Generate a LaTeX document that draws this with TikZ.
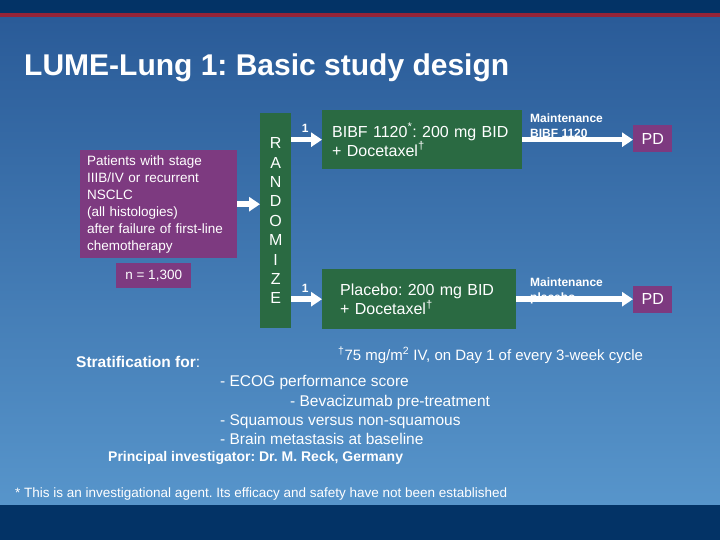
\documentclass[tikz,border=0pt]{standalone}
\usepackage{fontspec}
\setmainfont{Liberation Sans}
\usetikzlibrary{positioning,arrows.meta}
\frenchspacing

\definecolor{navy}{HTML}{033366}
\definecolor{slidered}{HTML}{952438}
\definecolor{bgtop}{HTML}{2A5B98}
\definecolor{bgbot}{HTML}{5795CB}
\definecolor{armgreen}{HTML}{2A6A42}
\definecolor{patpurple}{HTML}{7D3A80}

\tikzset{
  whitearrow/.style={draw=white, line width=5.5pt, -{Triangle[length=11pt,width=14pt]}},
  greenbox/.style={fill=armgreen, text=white, anchor=north west, inner sep=0pt},
  purplebox/.style={fill=patpurple, text=white, anchor=north west, inner sep=0pt},
  slidetext/.style={text=white, anchor=base west, inner sep=0pt},
}

\begin{document}
\begin{tikzpicture}[x=1pt,y=-1pt]
    % slide background
    \useasboundingbox (0,0) rectangle (720,540);
    \fill[navy] (0,0) rectangle (720,13);
    \fill[slidered] (0,13) rectangle (720,18);
    \shade[top color=bgtop, bottom color=bgbot] (0,18) rectangle (720,505);
    \fill[navy] (0,505) rectangle (720,540);

    \node[slidetext, font=\bfseries\fontsize{30}{34}\selectfont] (title) at (24,76) {LUME-Lung 1: Basic study design};

    % patients and randomisation
    \node[purplebox, minimum width=157pt, minimum height=108pt, text width=143pt, align=left,
          font=\fontsize{13.5}{17}\selectfont] (patients) at (80,150)
          {Patients with stage\\IIIB/IV or recurrent\\NSCLC\\(all histologies)\\after failure of first-line\\chemotherapy};
    \node[purplebox, minimum width=75pt, minimum height=25pt, font=\fontsize{13.5}{16}\selectfont] (count) at (116,263) {n = 1,300};
    \node[greenbox, minimum width=31pt, minimum height=215pt, align=center,
          font=\fontsize{16}{19.4}\selectfont] (rand) at (260,113) {R\\A\\N\\D\\O\\M\\I\\Z\\E};

    % treatment arms
    \node[greenbox, minimum width=200pt, minimum height=59pt, text width=180pt, align=left,
          font=\fontsize{16}{19}\selectfont] (armA) at (322,110)
          {BIBF 1120\textsuperscript{*}: 200 mg BID\\+ Docetaxel\textsuperscript{†}};
    \node[greenbox, minimum width=194pt, minimum height=60pt, text width=158pt, align=left,
          font=\fontsize{16}{19}\selectfont] (armB) at (322,269)
          {Placebo: 200 mg BID\\+ Docetaxel\textsuperscript{†}};

    \node[purplebox, minimum width=39pt, minimum height=27pt, font=\fontsize{16}{19}\selectfont] (pdA) at (633,125) {PD};
    \node[purplebox, minimum width=39pt, minimum height=27pt, font=\fontsize{16}{19}\selectfont] (pdB) at (633,285.5) {PD};

    \node[slidetext, anchor=north west, align=left, font=\bfseries\fontsize{12}{14.5}\selectfont] (maintA) at (530,114) {Maintenance\\BIBF 1120};
    \node[slidetext, anchor=north west, align=left, font=\bfseries\fontsize{12}{14.5}\selectfont] (maintB) at (530,278) {Maintenance\\placebo};

    % arrows
    \draw[whitearrow] (patients.east) -- (patients.east -| rand.west);
    \draw[whitearrow] (rand.east |- armA.west) -- node[above=1pt, pos=0.45, text=white, font=\bfseries\fontsize{12}{12}\selectfont] {1} (armA.west);
    \draw[whitearrow] (rand.east |- armB.west) -- node[above=1pt, pos=0.45, text=white, font=\bfseries\fontsize{12}{12}\selectfont] {1} (armB.west);
    \draw[whitearrow] (armA.east) -- (armA.east -| pdA.west);
    \draw[whitearrow] (armB.east) -- (armB.east -| pdB.west);

    % notes
    \node[slidetext, font=\fontsize{15}{18}\selectfont] (dosing) at (338,360) {\textsuperscript{†}75 mg/m\textsuperscript{2} IV, on Day 1 of every 3-week cycle};
    \node[slidetext, font=\fontsize{15.5}{18}\selectfont] (strat) at (76,367) {\textbf{Stratification for}:};
    \node[slidetext, font=\fontsize{15.5}{18}\selectfont] (ecog) at (220,386) {- ECOG performance score};
    \node[slidetext, font=\fontsize{15.5}{18}\selectfont] (beva) at (290,406) {- Bevacizumab pre-treatment};
    \node[slidetext, font=\fontsize{15.5}{18}\selectfont] (squam) at (220,425) {- Squamous versus non-squamous};
    \node[slidetext, font=\fontsize{15.5}{18}\selectfont] (brain) at (220,444) {- Brain metastasis at baseline};
    \node[slidetext, font=\bfseries\fontsize{14}{16}\selectfont] (pi) at (108,461) {Principal investigator: Dr. M. Reck, Germany};
    \node[slidetext, font=\fontsize{13.5}{16}\selectfont] (agent) at (15,497) {* This is an investigational agent. Its efficacy and safety have not been established};
\end{tikzpicture}
\end{document}
